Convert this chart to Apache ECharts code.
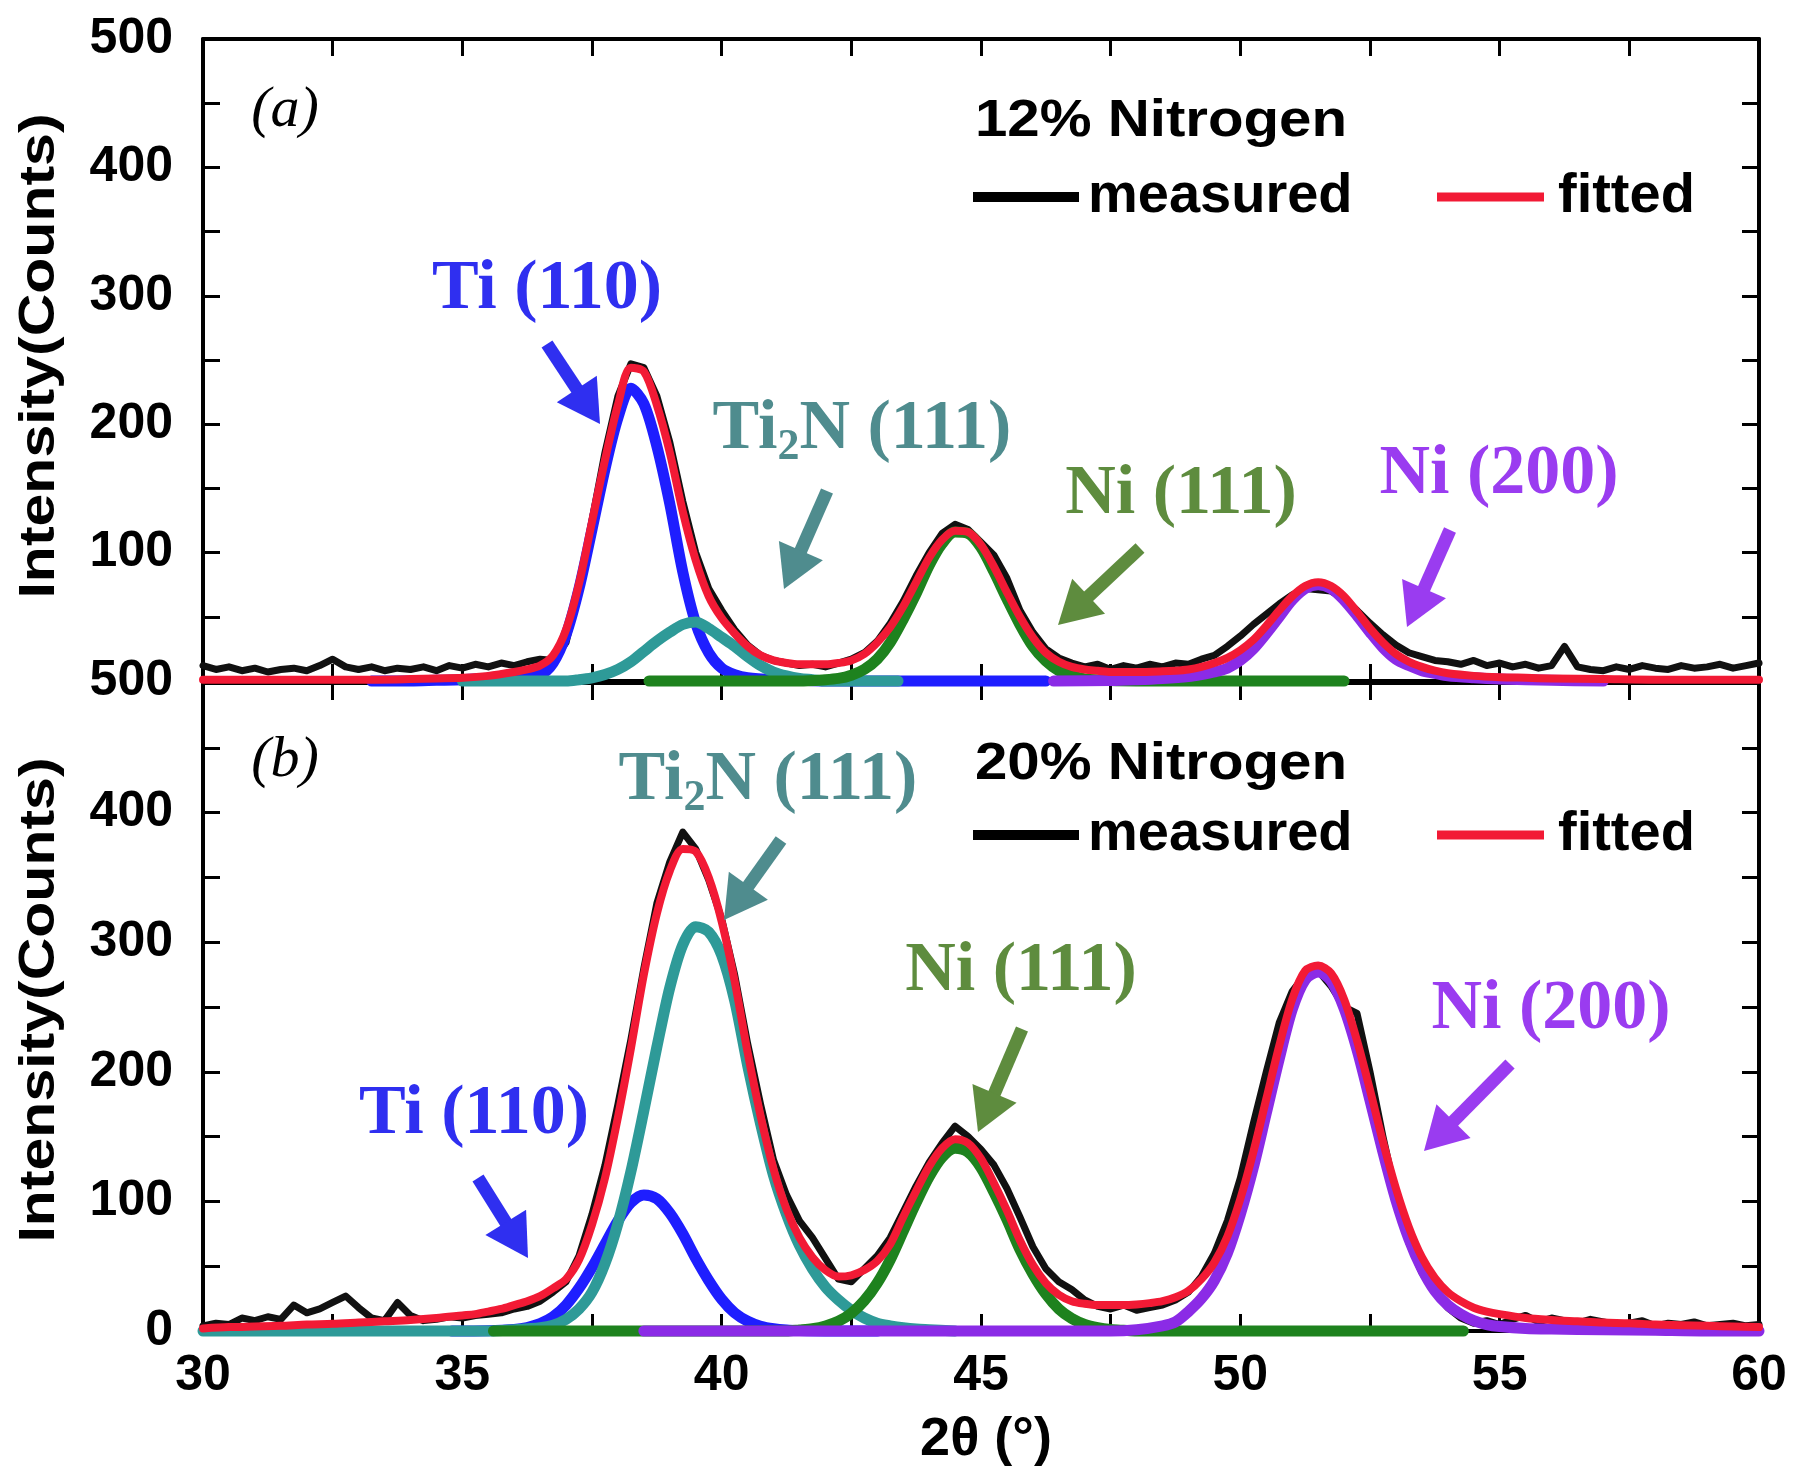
<!DOCTYPE html>
<html>
<head>
<meta charset="utf-8">
<script src="https://cdn.jsdelivr.net/npm/echarts@6/dist/echarts.min.js"></script>
<style>
html,body{margin:0;padding:0;background:#fff;}
#chart{width:1800px;height:1471px;}
</style>
</head>
<body>
<div id="chart"></div>
<script>
// tick labels (the original figure prints "500" at the zero of panel a)
var xTickLabels = ['30', '35', '40', '45', '50', '55', '60'];
var topYLabels = ['500', '100', '200', '300', '400', '500'];
var bottomYLabels = ['0', '100', '200', '300', '400', ''];

// panel (a) 12% nitrogen
var measuredA = [[30,12],[30.25,9],[30.5,11],[30.75,8],[31,10],[31.25,7],[31.5,9],[31.75,10],[32,8],[32.25,12],[32.5,17],[32.75,11],[33,9],[33.25,11],[33.5,8],[33.75,10],[34,9],[34.25,11],[34.5,8],[34.75,12],[35,10],[35.25,13],[35.5,11],[35.75,14],[36,12],[36.25,15],[36.5,17],[36.75,16],[37,30],[37.25,72],[37.5,125],[37.75,178],[38,222],[38.25,247],[38.5,244],[38.75,222],[39,186],[39.25,140],[39.5,100],[39.75,72],[40,55],[40.25,40],[40.5,28],[40.75,20],[41,16],[41.25,14],[41.5,12],[41.75,13],[42,11],[42.25,14],[42.5,17],[42.75,22],[43,31],[43.25,45],[43.5,62],[43.75,82],[44,100],[44.25,115],[44.5,122],[44.75,118],[45,108],[45.25,98],[45.5,80],[45.75,55],[46,38],[46.25,25],[46.5,18],[46.75,14],[47,11],[47.25,13],[47.5,9],[47.75,12],[48,10],[48.25,13],[48.5,11],[48.75,14],[49,13],[49.25,17],[49.5,20],[49.75,27],[50,35],[50.25,44],[50.5,52],[50.75,60],[51,67],[51.25,72],[51.5,71],[51.75,70],[52,64],[52.25,55],[52.5,45],[52.75,36],[53,28],[53.25,22],[53.5,19],[53.75,16],[54,15],[54.25,13],[54.5,16],[54.75,12],[55,14],[55.25,11],[55.5,13],[55.75,10],[56,12],[56.25,27],[56.5,11],[56.75,9],[57,8],[57.25,11],[57.5,9],[57.75,12],[58,10],[58.25,9],[58.5,12],[58.75,10],[59,11],[59.25,13],[59.5,10],[59.75,12],[60,14]];
var fittedA = [[30,1],[31,1],[32,1],[33,1],[34,1.5],[34.5,2],[35,2.5],[35.5,4],[36,7],[36.25,9],[36.5,12],[36.75,20],[37,40],[37.25,76],[37.5,124],[37.75,172],[38,215],[38.25,244],[38.5,241],[38.75,215],[39,178],[39.25,132],[39.5,94],[39.75,66],[40,49],[40.25,37],[40.5,27],[40.75,20],[41,16],[41.25,14],[41.5,13],[41.75,13],[42,13],[42.25,14],[42.5,16],[42.75,21],[43,30],[43.25,42],[43.5,58],[43.75,77],[44,96],[44.25,110],[44.5,117],[44.75,116],[45,106],[45.25,89],[45.5,69],[45.75,50],[46,34],[46.25,22],[46.5,15],[46.75,11],[47,9],[47.25,8],[47.5,7],[48,7],[48.5,7.5],[48.75,8],[49,9],[49.25,11],[49.5,14],[49.75,18],[50,24],[50.25,32],[50.5,43],[50.75,55],[51,66],[51.25,74],[51.5,77],[51.75,74],[52,66],[52.25,54],[52.5,41],[52.75,30],[53,21],[53.25,15],[53.5,11],[53.75,8],[54,6],[54.5,4],[55,3],[55.5,2.5],[56,2],[57,1.5],[58,1],[60,1]];
var tiA = [[33.25,0],[34,0],[34.5,0.5],[35,1],[35.5,2],[36,3],[36.5,5],[36.75,14],[37,36],[37.25,72],[37.5,118],[37.75,165],[38,205],[38.25,228],[38.5,216],[38.75,183],[39,138],[39.25,85],[39.5,45],[39.75,22],[40,10],[40.25,5],[40.5,2.5],[41,1],[41.5,0.5],[42,0],[46.25,0]];
var ti2nA = [[35,0],[37,0],[37.25,1],[37.5,2.5],[37.75,5],[38,9],[38.25,15],[38.5,23],[38.75,31],[39,38],[39.25,44],[39.5,46],[39.75,41],[40,34],[40.25,27],[40.5,19],[40.75,12],[41,7],[41.25,4],[41.5,2],[41.75,1],[42,0],[43.4,0]];
var ni111A = [[38.6,0],[41.5,0],[42,1],[42.25,2],[42.5,4.5],[42.75,9],[43,17],[43.25,30],[43.5,48],[43.75,68],[44,90],[44.25,107],[44.5,116],[44.75,115],[45,104],[45.25,85],[45.5,64],[45.75,44],[46,27],[46.25,15.5],[46.5,8],[46.75,4],[47,1.6],[47.5,0.3],[48,0],[52,0]];
var ni200A = [[46.4,0],[47.5,0.3],[48,1],[48.5,2],[49,3.5],[49.25,5],[49.5,7],[49.75,10],[50,16],[50.25,25],[50.5,37],[50.75,50],[51,63],[51.25,72],[51.5,75],[51.75,72],[52,63],[52.25,51],[52.5,38],[52.75,26],[53,17],[53.25,12],[53.5,8],[53.75,6],[54,4],[54.5,2.5],[55,1.5],[55.5,1],[56,0.5],[57,0]];

// panel (b) 20% nitrogen
var measuredB = [[30,4],[30.25,6],[30.5,5],[30.75,10],[31,8],[31.25,11],[31.5,9],[31.75,20],[32,14],[32.25,17],[32.5,22],[32.75,27],[33,18],[33.25,10],[33.5,8],[33.75,22],[34,12],[34.25,8],[34.5,9],[34.75,11],[35,10],[35.25,12],[35.5,13],[35.75,14],[36,17],[36.25,19],[36.5,23],[36.75,30],[37,38],[37.25,58],[37.5,90],[37.75,128],[38,175],[38.25,225],[38.5,280],[38.75,330],[39,362],[39.25,385],[39.5,372],[39.75,348],[40,318],[40.25,275],[40.5,222],[40.75,175],[41,132],[41.25,105],[41.5,85],[41.75,72],[42,56],[42.25,40],[42.5,38],[42.75,48],[43,58],[43.25,72],[43.5,92],[43.75,112],[44,130],[44.25,145],[44.5,158],[44.75,150],[45,140],[45.25,128],[45.5,110],[45.75,88],[46,65],[46.25,48],[46.5,38],[46.75,32],[47,24],[47.25,19],[47.5,17],[47.75,20],[48,16],[48.25,18],[48.5,20],[48.75,24],[49,30],[49.25,42],[49.5,60],[49.75,85],[50,118],[50.25,160],[50.5,200],[50.75,238],[51,262],[51.25,275],[51.5,278],[51.75,266],[52,250],[52.25,245],[52.5,200],[52.75,150],[53,105],[53.25,68],[53.5,45],[53.75,30],[54,18],[54.25,10],[54.5,6],[54.75,8],[55,5],[55.25,9],[55.5,12],[55.75,7],[56,10],[56.25,8],[56.5,6],[56.75,9],[57,7],[57.25,5],[57.5,6],[57.75,8],[58,4],[58.25,6],[58.5,5],[58.75,7],[59,4],[59.25,5],[59.5,6],[59.75,4],[60,5]];
var fittedB = [[30,2],[30.5,3],[31,3.5],[31.5,4],[32,5],[32.5,5.5],[33,6.5],[33.5,7.5],[34,8.5],[34.5,10],[35,12],[35.25,13],[35.5,15],[35.75,17],[36,20],[36.25,23],[36.5,27],[36.75,33],[37,40],[37.25,55],[37.5,82],[37.75,118],[38,165],[38.25,218],[38.5,275],[38.75,322],[39,355],[39.25,372],[39.5,370],[39.75,350],[40,316],[40.25,270],[40.5,215],[40.75,166],[41,125],[41.25,94],[41.5,72],[41.75,57],[42,47],[42.25,42],[42.5,43],[42.75,47],[43,54],[43.25,67],[43.5,88],[43.75,108],[44,127],[44.25,141],[44.5,148],[44.75,145],[45,133],[45.25,114],[45.5,93],[45.75,70],[46,51],[46.25,37],[46.5,28],[46.75,23],[47,21],[47.25,20],[47.5,20],[47.75,20],[48,20.5],[48.25,21.5],[48.5,23],[48.75,26],[49,31],[49.25,40],[49.5,53],[49.75,73],[50,102],[50.25,138],[50.5,179],[50.75,220],[51,256],[51.25,278],[51.5,282],[51.75,276],[52,256],[52.25,224],[52.5,186],[52.75,146],[53,110],[53.25,80],[53.5,57],[53.75,41],[54,30],[54.25,23],[54.5,18],[54.75,15],[55,13],[55.5,10],[56,8.5],[56.5,7.5],[57,6.5],[57.5,6],[58,5],[58.5,4.5],[59,4],[59.5,3.5],[60,3]];
var tiB = [[34.8,0],[35.5,0.2],[36,1.2],[36.25,2.7],[36.5,5.7],[36.75,11],[37,20],[37.25,33],[37.5,49],[37.75,67],[38,85],[38.25,99],[38.5,105],[38.75,102],[39,91],[39.25,75],[39.5,56],[39.75,39],[40,24.5],[40.25,14],[40.5,7.6],[40.75,3.7],[41,1.7],[41.25,0.7],[41.5,0.3],[42,0],[43,0]];
var ti2nB = [[30,0],[35.5,0],[36,1],[36.5,2.5],[36.75,4.5],[37,9],[37.25,17],[37.5,30],[37.75,52],[38,83],[38.25,123],[38.5,170],[38.75,219],[39,265],[39.25,298],[39.5,312],[39.75,308],[40,290],[40.25,255],[40.5,205],[40.75,160],[41,120],[41.25,90],[41.5,66],[41.75,48],[42,34],[42.25,24],[42.5,16],[42.75,10],[43,6],[43.25,4],[43.5,2.5],[43.75,1.5],[44,1],[44.5,0]];
var ni111B = [[35.6,0],[41.25,0],[41.5,0.8],[41.75,1.8],[42,3.9],[42.25,7.5],[42.5,13.7],[42.75,23.4],[43,37],[43.25,55],[43.5,77],[43.75,99],[44,119],[44.25,134],[44.5,141],[44.75,138],[45,126],[45.25,107],[45.5,86],[45.75,63],[46,44],[46.25,28.5],[46.5,17],[46.75,9.6],[47,5],[47.25,2.5],[47.5,1.1],[47.75,0.5],[48,0],[54.3,0]];
var ni200B = [[38.5,0],[47.5,0],[48,1],[48.5,4],[48.75,7],[49,15],[49.25,25],[49.5,39],[49.75,60],[50,90],[50.25,126],[50.5,168],[50.75,210],[51,248],[51.25,271],[51.5,277],[51.75,270],[52,249],[52.25,217],[52.5,178],[52.75,138],[53,101],[53.25,71],[53.5,48],[53.75,31],[54,20],[54.25,13],[54.5,8],[54.75,5],[55,3.5],[55.5,2],[56,1.5],[57,1],[58,0.5],[59,0],[60,0]];

var C = {
    measured: '#111111',
    fitted: '#f21a35',
    ti: '#1e1eff',
    ti2n: '#2e9a98',
    ni111: '#1e821e',
    ni200: '#8b2be6'
};
var LBL = { ti: '#2f2ff0', ti2n: '#4f8c8e', ni111: '#5e8c3e', ni200: '#9a3cf0' };

var SANS = '"Liberation Sans", Arial, sans-serif';
var SERIF = '"Liberation Serif", "Times New Roman", serif';

var chart = echarts.init(document.getElementById('chart'));

function xAx(grid, pos, labels) {
    return {
        type: 'value', gridIndex: grid, position: pos, min: 30, max: 60, interval: 2.5,
        axisLine: { show: true, onZero: false, lineStyle: { color: '#000', width: 4 } },
        axisTick: { show: true, inside: true, length: 17, lineStyle: { color: '#000', width: 3 } },
        splitLine: { show: false },
        axisLabel: {
            show: !!labels, margin: 20, color: '#000', fontSize: 50, fontWeight: 'bold', fontFamily: SANS,
            formatter: function (v) { return v % 5 === 0 ? xTickLabels[(v - 30) / 5] : ''; }
        }
    };
}
function yAx(grid, pos, labels) {
    return {
        type: 'value', gridIndex: grid, position: pos, min: 0, max: 500, interval: 50,
        axisLine: { show: true, onZero: false, lineStyle: { color: '#000', width: 4 } },
        axisTick: { show: true, inside: true, length: 17, lineStyle: { color: '#000', width: 3 } },
        splitLine: { show: false },
        axisLabel: {
            show: !!labels, margin: 30, color: '#000', fontSize: 50, fontWeight: 'bold', fontFamily: SANS,
            formatter: function (v) { return v % 100 === 0 ? labels[v / 100] : ''; }
        }
    };
}
function line(name, data, color, width, idx, z, smooth) {
    return {
        name: name, type: 'line', data: data, xAxisIndex: idx, yAxisIndex: idx,
        showSymbol: false, smooth: smooth, clip: false, z: z,
        lineStyle: { color: color, width: width, join: 'round', cap: 'round' }, itemStyle: { color: color }
    };
}

function arrow(x1, y1, x2, y2, color) {
    var dx = x2 - x1, dy = y2 - y1, len = Math.sqrt(dx * dx + dy * dy);
    var ux = dx / len, uy = dy / len, L = 42, W = 24;
    var bx = x2 - ux * L, by = y2 - uy * L;
    return [
        { type: 'line', z: 100, shape: { x1: x1, y1: y1, x2: bx + ux * 4, y2: by + uy * 4 }, style: { stroke: color, lineWidth: 13 } },
        { type: 'polygon', z: 100, shape: { points: [[x2, y2], [bx - uy * W, by + ux * W], [bx + uy * W, by - ux * W]] }, style: { fill: color } }
    ];
}
function txt(x, y, text, font, color, align, extra) {
    var el = { type: 'text', z: 100, x: x, y: y, style: { text: text, font: font, fill: color, align: align || 'center', verticalAlign: 'middle' } };
    for (var k in extra) el[k] = extra[k];
    return el;
}
function subLabel(x, y, color) {
    return {
        type: 'text', z: 100, x: x, y: y,
        style: {
            text: '{m|Ti}{s|2}{m|N (111)}', align: 'center', verticalAlign: 'middle',
            rich: {
                m: { font: 'bold 70px ' + SERIF, fill: color, lineHeight: 80 },
                s: { font: 'bold 44px ' + SERIF, fill: color, verticalAlign: 'bottom' }
            }
        }
    };
}

var graphics = [];
var lab = 'bold 70px ' + SERIF;
// panel a annotations
graphics.push(txt(285, 111, '(a)', 'italic 58px ' + SERIF, '#000'));
graphics.push(txt(1161, 122, '12% Nitrogen', 'bold 52px ' + SANS, '#000', 'center', { scaleX: 1.12 }));
graphics.push(txt(547, 290, 'Ti (110)', lab, LBL.ti));
graphics.push(subLabel(862, 430, LBL.ti2n));
graphics.push(txt(1181, 495, 'Ni (111)', lab, LBL.ni111));
graphics.push(txt(1499, 475, 'Ni (200)', lab, LBL.ni200));
graphics = graphics.concat(arrow(547, 344, 600, 424, LBL.ti));
graphics = graphics.concat(arrow(827, 491, 784, 589, LBL.ti2n));
graphics = graphics.concat(arrow(1140, 548, 1058, 625, LBL.ni111));
graphics = graphics.concat(arrow(1450, 530, 1407, 627, LBL.ni200));
// panel b annotations
graphics.push(txt(285, 761, '(b)', 'italic 58px ' + SERIF, '#000'));
graphics.push(txt(1161, 765, '20% Nitrogen', 'bold 52px ' + SANS, '#000', 'center', { scaleX: 1.12 }));
graphics.push(subLabel(768, 781, LBL.ti2n));
graphics.push(txt(474, 1115, 'Ti (110)', lab, LBL.ti));
graphics.push(txt(1021, 972, 'Ni (111)', lab, LBL.ni111));
graphics.push(txt(1551, 1010, 'Ni (200)', lab, LBL.ni200));
graphics = graphics.concat(arrow(781, 840, 724, 920, LBL.ti2n));
graphics = graphics.concat(arrow(478, 1178, 528, 1258, LBL.ti));
graphics = graphics.concat(arrow(1022, 1029, 978, 1132, LBL.ni111));
graphics = graphics.concat(arrow(1510, 1064, 1424, 1151, LBL.ni200));
// legends
[197, 835].forEach(function (ly) {
    graphics.push({ type: 'line', z: 100, shape: { x1: 973, y1: ly, x2: 1079, y2: ly }, style: { stroke: '#000', lineWidth: 10 } });
    graphics.push(txt(1088, ly, 'measured', 'bold 56px ' + SANS, '#000', 'left'));
    graphics.push({ type: 'line', z: 100, shape: { x1: 1437, y1: ly, x2: 1544, y2: ly }, style: { stroke: C.fitted, lineWidth: 9 } });
    graphics.push(txt(1558, ly, 'fitted', 'bold 56px ' + SANS, '#000', 'left'));
});
// axis titles
graphics.push(txt(40, 356, 'Intensity(Counts)', 'bold 50px ' + SANS, '#000', 'center', { rotation: Math.PI / 2, scaleX: 1.18 }));
graphics.push(txt(40, 1000, 'Intensity(Counts)', 'bold 50px ' + SANS, '#000', 'center', { rotation: Math.PI / 2, scaleX: 1.18 }));
graphics.push(txt(986, 1440, '2θ (°)', 'bold 54px ' + SANS, '#000'));

var option = {
    animation: false,
    backgroundColor: '#fff',
    grid: [
        { left: 203, top: 39, width: 1556, height: 642 },
        { left: 203, top: 683, width: 1556, height: 648 }
    ],
    xAxis: [xAx(0, 'bottom', null), xAx(0, 'top', null), xAx(1, 'bottom', xTickLabels), xAx(1, 'top', null)],
    yAxis: [yAx(0, 'left', topYLabels), yAx(0, 'right', null), yAx(1, 'left', bottomYLabels), yAx(1, 'right', null)],
    series: [
        line('measured', measuredA, C.measured, 7, 0, 2, false),
        line('Ti (110)', tiA, C.ti, 11, 0, 3, 0.3),
        line('Ti2N (111)', ti2nA, C.ti2n, 11, 0, 4, 0.3),
        line('Ni (111)', ni111A, C.ni111, 11, 0, 5, 0.3),
        line('Ni (200)', ni200A, C.ni200, 11, 0, 6, 0.3),
        line('fitted', fittedA, C.fitted, 8, 0, 7, 0.3),
        line('measured', measuredB, C.measured, 7, 2, 2, false),
        line('Ti (110)', tiB, C.ti, 11, 2, 3, 0.3),
        line('Ti2N (111)', ti2nB, C.ti2n, 11, 2, 4, 0.3),
        line('Ni (111)', ni111B, C.ni111, 11, 2, 5, 0.3),
        line('Ni (200)', ni200B, C.ni200, 11, 2, 6, 0.3),
        line('fitted', fittedB, C.fitted, 8, 2, 7, 0.3)
    ],
    graphic: { elements: graphics }
};
chart.setOption(option);
</script>
</body>
</html>
